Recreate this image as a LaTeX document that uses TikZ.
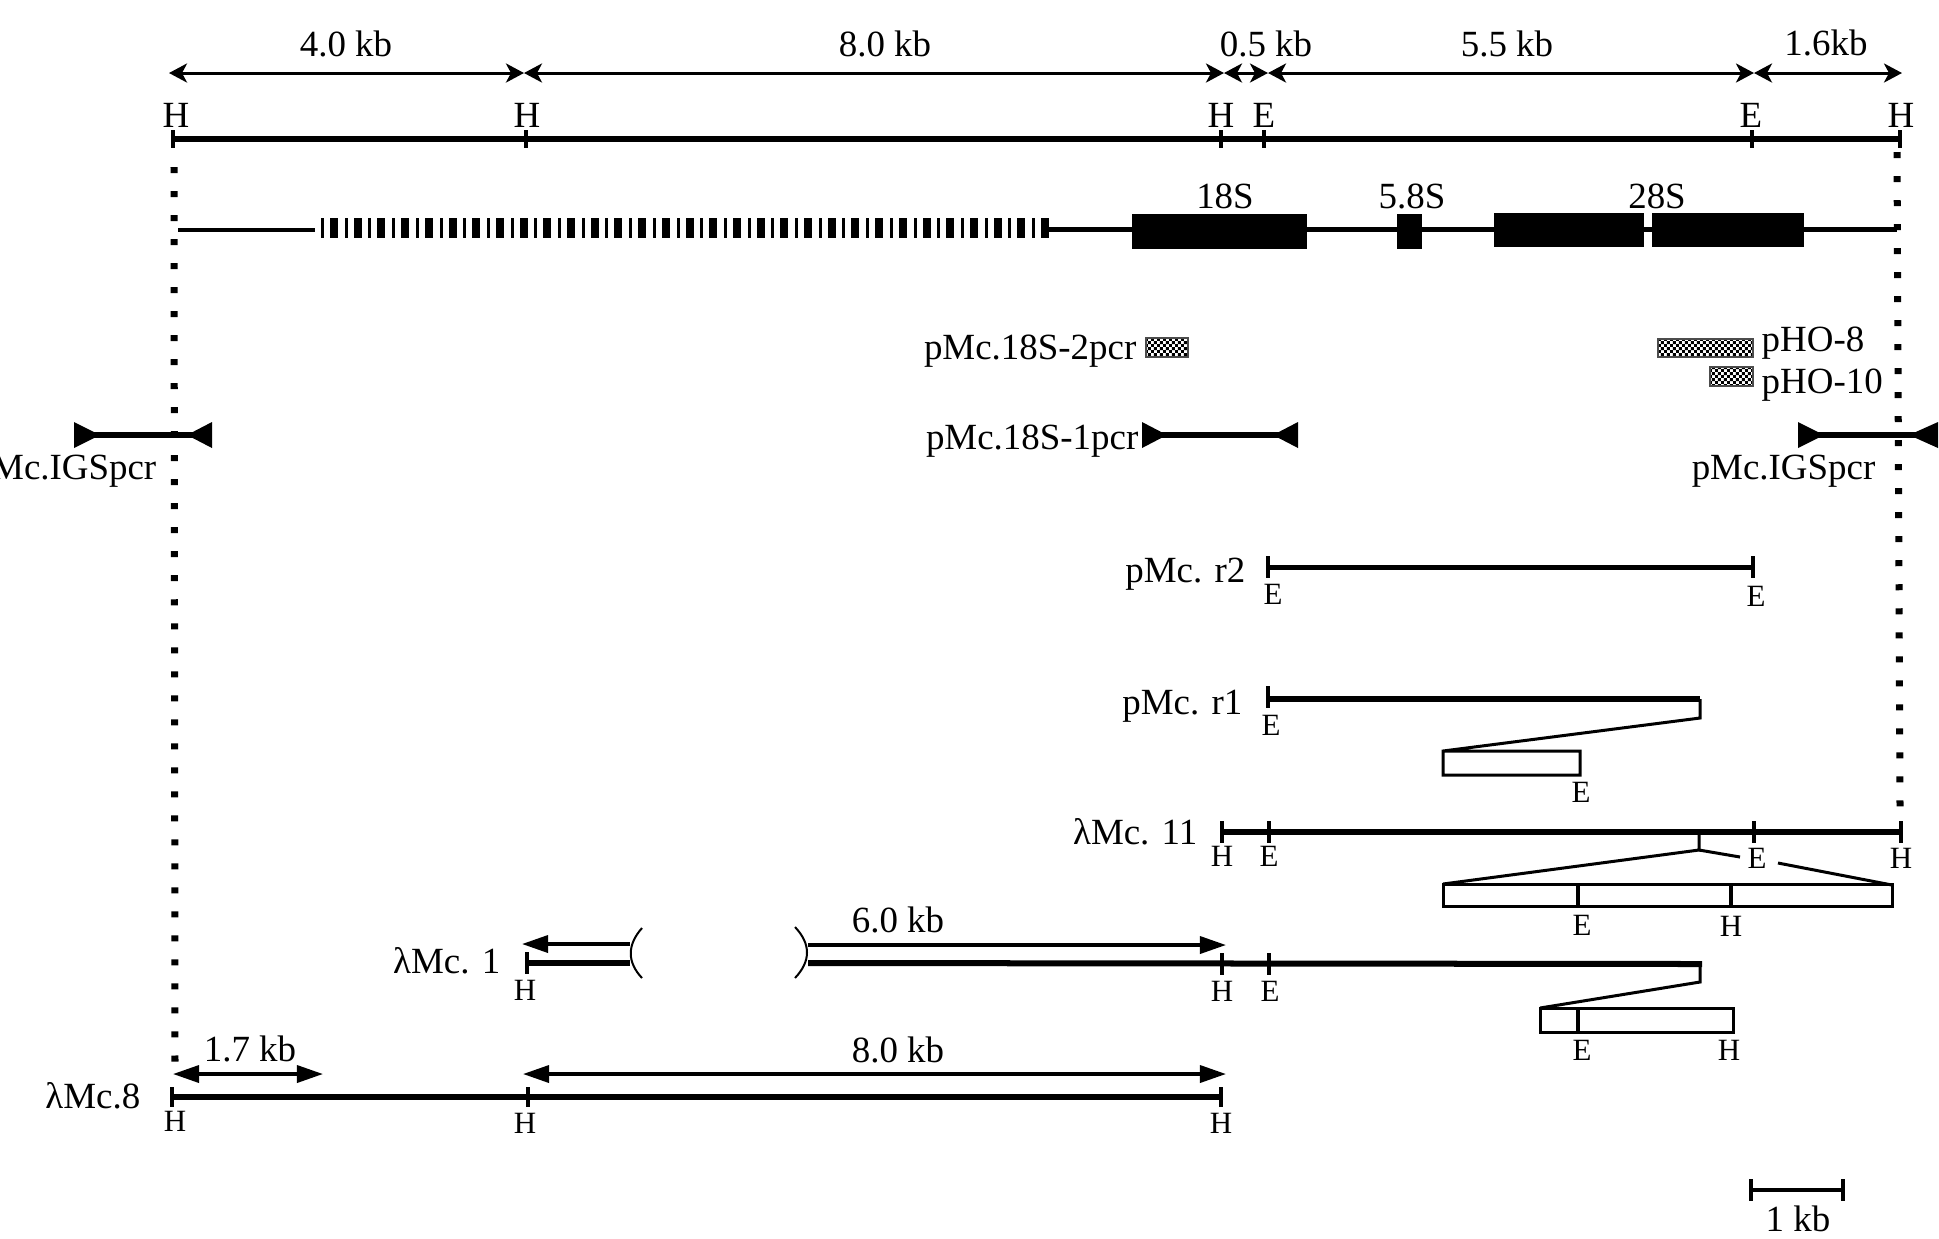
\documentclass[tikz,border=0pt]{standalone}
\usepackage{fontspec}
\setmainfont{Liberation Serif}
\usetikzlibrary{arrows.meta,patterns}
\pgfdeclarepatternformonly{fine check}{\pgfqpoint{0pt}{0pt}}{\pgfqpoint{1.8pt}{1.8pt}}{\pgfqpoint{1.8pt}{1.8pt}}{
  \pgfpathrectangle{\pgfqpoint{0pt}{0pt}}{\pgfqpoint{0.9pt}{0.9pt}}
  \pgfpathrectangle{\pgfqpoint{0.9pt}{0.9pt}}{\pgfqpoint{0.9pt}{0.9pt}}
  \pgfusepath{fill}}
\tikzset{
  txt/.style={inner sep=0pt,font=\fontsize{10.5}{12}\selectfont},
  lab/.style={txt,anchor=base east},
  site/.style={inner sep=0pt,font=\fontsize{8.8}{10}\selectfont},
  map/.style={line width=0.06cm},
  thin box/.style={line width=0.03cm,line join=miter},
  tick/.style={line width=0.032cm},
  dim/.style={line width=0.03cm,{Stealth[length=0.18cm,width=0.19cm,inset=0.05cm]}-{Stealth[length=0.18cm,width=0.19cm,inset=0.05cm]}},
  onehead/.style={line width=0.035cm,-{Triangle[length=0.26cm,width=0.17cm]}},
  twohead/.style={line width=0.035cm,{Triangle[length=0.26cm,width=0.17cm]}-{Triangle[length=0.26cm,width=0.17cm]}},
  dots/.style={line width=0.07cm,dash pattern=on 0.06cm off 0.18cm},
  probe/.style={pattern=fine check,draw=black!70,line width=0.012cm}
}
\begin{document}
\begin{tikzpicture}[x=0.01cm,y=-0.01cm]
  \useasboundingbox (0,0) rectangle (1939,1238);
  % restriction map
  \coordinate (H1) at (173,139); \coordinate (H2) at (526,139); \coordinate (H3) at (1221,139);
  \coordinate (E1) at (1264,139); \coordinate (E2) at (1752,139); \coordinate (H4) at (1900,139);
  \draw[map] (H1) -- (H4);
  \foreach \p in {H1,H2,H3,E1,E2,H4}
    \draw[tick] (\p) ++(0,-9) -- ++(0,18);
  \node[txt] (h1) at (176,115) {H};
  \node[txt] (h2) at (527,115) {H};
  \node[txt] (h3) at (1221,115) {H};
  \node[txt] (e1) at (1264,115) {E};
  \node[txt] (e2) at (1751,115) {E};
  \node[txt] (h4) at (1901,115) {H};
  % fragment sizes
  \coordinate (D1) at (169,73); \coordinate (D2) at (524,73); \coordinate (D3) at (1224,73);
  \coordinate (D4) at (1268,73); \coordinate (D5) at (1754,73); \coordinate (D6) at (1902,73);
  \draw[dim] (D1) -- (D2); \draw[dim] (D2) -- (D3); \draw[dim] (D3) -- (D4);
  \draw[dim] (D4) -- (D5); \draw[dim] (D5) -- (D6);
  \node[txt] (d1) at (346,44) {4.0 kb};
  \node[txt] (d2) at (885,44) {8.0 kb};
  \node[txt] (d3) at (1266,44) {0.5 kb};
  \node[txt] (d4) at (1507,44) {5.5 kb};
  \node[txt] (d5) at (1826,43) {1.6kb};
  % dotted guides
  \draw[dots] (174,167) -- (175,1063);
  \draw[dots] (1897,152) -- (1900,807);
  % rDNA unit
  \draw[line width=0.045cm] (178,230) -- (315,230);
  \foreach \n in {0,...,30} {
    \fill ({321+23.7*\n},218) rectangle ++(3,20);
    \fill ({330+23.7*\n},218) rectangle ++(8,20);
  }
  \draw[line width=0.045cm] (1045,229.5) -- (1897,229.5);
  \fill (1132,214) rectangle (1307,249);
  \fill (1397,214) rectangle (1422,249);
  \fill (1494,213) rectangle (1644,247);
  \fill (1652,213) rectangle (1804,247);
  \node[txt] (s18) at (1225,196) {18S};
  \node[txt] (s58) at (1412,196) {5.8S};
  \node[txt] (s28) at (1657,196) {28S};
  % probes
  \path[probe] (1146,338) rectangle (1188,357);
  \path[probe] (1658,339) rectangle (1753,357);
  \path[probe] (1710,367) rectangle (1753,386);
  \node[lab] (p2) at (1137,359) {pMc.18S-2pcr};
  \node[txt,anchor=base west] (pho8) at (1761,351) {pHO-8};
  \node[txt,anchor=base west] (pho10) at (1761,393) {pHO-10};
  % pcr products
  \foreach \a/\b/\c/\d in {74/100/187/212,1142/1167/1273/1298,1798/1824/1909/1938} {
    \draw[map] (\a,435) -- (\d,435);
    \fill (\a,422) -- (\b,435) -- (\a,448) -- cycle;
    \fill (\d,422) -- (\c,435) -- (\d,448) -- cycle;
  }
  \node[lab] (igsl) at (157,479) {pMc.IGSpcr};
  \node[lab] (p1) at (1139,449) {pMc.18S-1pcr};
  \node[lab] (igsr) at (1876,479) {pMc.IGSpcr};
  % pMc. r2
  \coordinate (r2a) at (1268,567); \coordinate (r2b) at (1753,567);
  \draw[line width=0.05cm] (r2a) -- (r2b);
  \foreach \p in {r2a,r2b}
    \draw[tick] (\p) ++(0,-11) -- ++(0,22);
  \node[lab] (r2) at (1246,582) {pMc. r2};
  \node[site] (r2e1) at (1273,594) {E};
  \node[site] (r2e2) at (1756,596) {E};
  % pMc. r1
  \coordinate (r1a) at (1268,699); \coordinate (r1b) at (1700,699);
  \draw[map] (r1a) -- (r1b);
  \draw[tick] (r1a) ++(0,-13) -- ++(0,22);
  \draw[thin box] (r1b) -- (1700,718) -- (1443,751) -- (1443,775) -- (1580,775) -- (1580,751) -- (1443,751);
  \node[lab] (r1) at (1243,714) {pMc. r1};
  \node[site] (r1e1) at (1271,725) {E};
  \node[site] (r1e2) at (1581,792) {E};
  % lambda 11
  \coordinate (k1) at (1222,832); \coordinate (k2) at (1269,832);
  \coordinate (k3) at (1754,832); \coordinate (k4) at (1901,832);
  \draw[map] (k1) -- (k4);
  \foreach \p in {k1,k2,k3,k4}
    \draw[tick] (\p) ++(0,-11) -- ++(0,22);
  \draw[thin box] (1699,832) -- (1699,850) -- (1443,884);
  \draw[thin box] (1699,850) -- (1740,857);
  \draw[thin box] (1778,863) -- (1892,885);
  \draw[thin box] (1443,884) rectangle (1892,906);
  \draw[tick] (1578,884) -- (1578,906);
  \draw[tick] (1731,884) -- (1731,906);
  \node[lab] (k) at (1198,844) {λMc. 11};
  \node[site] (kh1) at (1222,856) {H};
  \node[site] (ke1) at (1269,856) {E};
  \node[site] (ke2) at (1757,858) {E};
  \node[site] (kh2) at (1901,858) {H};
  \node[site] (ke3) at (1582,925) {E};
  \node[site] (kh3) at (1731,926) {H};
  % lambda 1
  \coordinate (m1) at (527,963); \coordinate (m2) at (630,963); \coordinate (m3) at (808,963);
  \coordinate (m4) at (1222,964); \coordinate (m5) at (1269,964); \coordinate (m6) at (1702,964);
  \draw[map] (m1) -- (m2);
  \draw[map] (m3) -- (m6);
  \draw[onehead] (630,944) -- (522,944);
  \draw[onehead] (808,945) -- (1226,945);
  \draw[line width=0.02cm] (642,928) .. controls (627,945) and (627,962) .. (642,978);
  \draw[line width=0.02cm] (795,927) .. controls (811,944) and (811,961) .. (795,978);
  \foreach \p in {m1,m4,m5}
    \draw[tick] (\p) ++(0,-11) -- ++(0,22);
  \draw[thin box] (1700,964) -- (1700,982) -- (1540,1008);
  \draw[thin box] (1540,1008) rectangle (1733,1032);
  \draw[tick] (1578,1008) -- (1578,1032);
  \node[lab] (m) at (501,973) {λMc. 1};
  \node[txt] (m60) at (898,920) {6.0 kb};
  \node[site] (mh1) at (525,990) {H};
  \node[site] (mh2) at (1222,991) {H};
  \node[site] (me1) at (1270,991) {E};
  \node[site] (me2) at (1582,1050) {E};
  \node[site] (mh3) at (1729,1050) {H};
  % lambda 8
  \coordinate (n1) at (172,1097); \coordinate (n2) at (528,1097); \coordinate (n3) at (1221,1097);
  \draw[map] (n1) -- (n3);
  \foreach \p in {n1,n2,n3}
    \draw[tick] (\p) ++(0,-10) -- ++(0,20);
  \draw[twohead] (173,1074) -- (323,1074);
  \draw[twohead] (523,1074) -- (1226,1074);
  \node[txt] (n17) at (250,1049) {1.7 kb};
  \node[txt] (n80) at (898,1050) {8.0 kb};
  \node[lab] (n) at (141,1108) {λMc.8};
  \node[site] (nh1) at (175,1121) {H};
  \node[site] (nh2) at (525,1123) {H};
  \node[site] (nh3) at (1221,1123) {H};
  % scale bar
  \coordinate (s1) at (1751,1190); \coordinate (s2) at (1843,1190);
  \draw[line width=0.035cm] (s1) -- (s2);
  \foreach \p in {s1,s2}
    \draw[tick] (\p) ++(0,-11) -- ++(0,22);
  \node[txt] (s) at (1798,1219) {1 kb};
\end{tikzpicture}
\end{document}
